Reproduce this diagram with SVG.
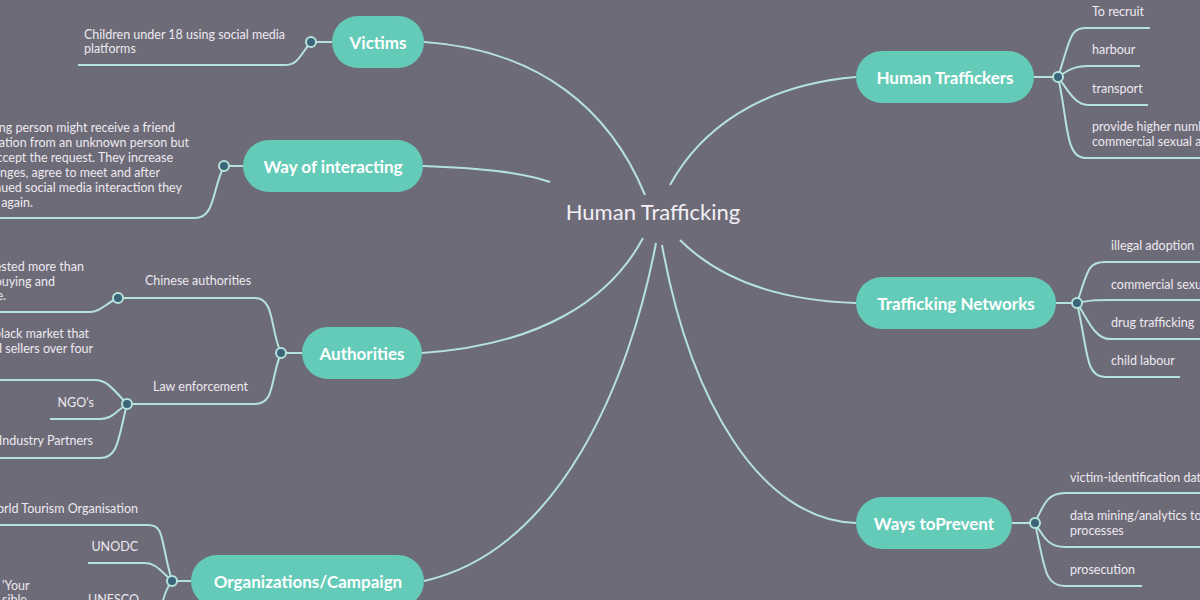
<svg xmlns="http://www.w3.org/2000/svg" width="1200" height="600" viewBox="0 0 1200 600">
<style>
.n{fill:#64cbb8}
.nt{fill:#fff;font:bold 17px Lato,"Open Sans",sans-serif;text-anchor:middle;dominant-baseline:central}
.t{fill:#ece9ef;font:12.5px Lato,"Open Sans",sans-serif}
.tr{fill:#ece9ef;font:12.5px Lato,"Open Sans",sans-serif;text-anchor:end}
.c path{fill:none;stroke:#b5e2dc;stroke-width:2}
.d{fill:#3b6578;stroke:#b5e2dc;stroke-width:2}
</style>
<rect width="1200" height="600" fill="#6e6b78"/>
<text x="653" y="220" fill="#f2f0f4" style="font:22px Lato,'Open Sans',sans-serif" text-anchor="middle">Human Trafficking</text>
<g class="c">
<path d="M424,42 C540,50 610,110 645,195"/>
<path d="M423,166 C480,168 520,172 550,182"/>
<path d="M422,353 C540,345 610,300 643,238"/>
<path d="M424,581 C560,550 630,380 656,243"/>
<path d="M856,77 C760,85 700,130 670,185"/>
<path d="M856,303 C760,300 710,270 680,240"/>
<path d="M856,523 C760,520 690,400 662,245"/>
<path d="M332,42 H311 M311,42 C300,55 298,65 285,65 H78"/>
<path d="M243,166 H224 M224,166 C212,190 215,218 195,218 H0"/>
<path d="M302,353 H281 M281,353 C270,330 275,298 255,298 H118 M118,298 C105,304 100,312 90,312 H0"/>
<path d="M281,353 C270,380 275,404 255,404 H127 M127,404 C110,385 105,380 95,380 H0 M127,404 C115,412 112,419 100,419 H50 M127,404 C118,440 118,458 100,458 H0"/>
<path d="M191,581 H172 M172,581 C160,540 165,525 148,525 H0 M172,581 C160,570 155,563 145,563 H88 M172,581 C165,590 163,600 162,605"/>
<path d="M1034,77 H1058 M1058,77 C1070,40 1070,28 1085,28 H1150 M1058,77 C1068,70 1075,66 1088,66 H1140 M1058,77 C1068,90 1075,105 1088,105 H1148 M1058,77 C1068,120 1065,158 1085,158 H1200"/>
<path d="M1056,303 H1077 M1077,303 C1088,270 1088,262 1105,262 H1200 M1077,303 C1090,300 1095,300 1110,300 H1200 M1077,303 C1088,320 1095,339 1110,339 H1200 M1077,303 C1088,350 1085,377 1105,377 H1180"/>
<path d="M1012,523 H1035 M1035,523 C1045,500 1050,493 1065,493 H1200 M1035,523 C1045,540 1050,547 1065,547 H1200 M1035,523 C1045,570 1045,586 1065,586 H1142"/>
</g>
<g id="dots">
<circle class="d" cx="311" cy="42" r="5"/><circle class="d" cx="224" cy="166" r="5"/>
<circle class="d" cx="281" cy="353" r="5"/><circle class="d" cx="118" cy="298" r="5"/><circle class="d" cx="127" cy="404" r="5"/>
<circle class="d" cx="172" cy="581" r="5"/><circle class="d" cx="1058" cy="77" r="5"/>
<circle class="d" cx="1077" cy="303" r="5"/><circle class="d" cx="1035" cy="523" r="5"/>
</g>
<g id="victims"><rect class="n" x="332" y="16" width="92" height="52" rx="26"/><text class="nt" x="378" y="42">Victims</text></g>
<g id="way"><rect class="n" x="243" y="140" width="180" height="52" rx="26"/><text class="nt" x="333" y="166">Way of interacting</text></g>
<g id="authorities"><rect class="n" x="302" y="327" width="120" height="52" rx="26"/><text class="nt" x="362" y="353">Authorities</text></g>
<g id="orgs"><rect class="n" x="191" y="555" width="233" height="52" rx="26"/><text class="nt" x="308" y="581">Organizations/Campaign</text></g>
<g id="traffickers"><rect class="n" x="856" y="51" width="178" height="52" rx="26"/><text class="nt" x="945" y="77">Human Traffickers</text></g>
<g id="networks"><rect class="n" x="856" y="277" width="200" height="52" rx="26"/><text class="nt" x="956" y="303">Trafficking Networks</text></g>
<g id="prevent"><rect class="n" x="856" y="497" width="156" height="52" rx="26"/><text class="nt" x="934" y="523">Ways toPrevent</text></g>
<g id="leaves">
<text class="t" x="84" y="39">Children under 18 using social media</text><text class="t" x="84" y="53">platforms</text>
<text class="tr" x="175" y="132">ung person might receive a friend</text>
<text class="tr" x="189" y="147">cation from an unknown person but</text>
<text class="tr" x="173" y="162">ccept the request. They increase</text>
<text class="tr" x="160" y="177">anges, agree to meet and after</text>
<text class="tr" x="182" y="192">nued social media interaction they</text>
<text class="tr" x="33" y="207">again.</text>
<text class="tr" x="84" y="271">ested more than</text><text class="tr" x="55" y="286">ouying and</text><text class="tr" x="6" y="300">e.</text>
<text class="t" x="145" y="285">Chinese authorities</text>
<text class="tr" x="89" y="338">black market that</text><text class="tr" x="93" y="353">d sellers over four</text>
<text class="t" x="153" y="391">Law enforcement</text>
<text class="tr" x="94" y="407">NGO's</text>
<text class="tr" x="93" y="445">Industry Partners</text>
<text class="tr" x="138" y="513">World Tourism Organisation</text>
<text class="tr" x="138" y="551">UNODC</text>
<text class="t" x="2" y="590">'Your</text><text class="t" x="2" y="604">sible</text>
<text class="t" x="88" y="604">UNESCO</text>
<text class="t" x="1092" y="16">To recruit</text><text class="t" x="1092" y="54">harbour</text><text class="t" x="1092" y="93">transport</text>
<text class="t" x="1092" y="131">provide higher numb</text><text class="t" x="1092" y="146">commercial sexual a</text>
<text class="t" x="1111" y="250">illegal adoption</text><text class="t" x="1111" y="289">commercial sexu</text><text class="t" x="1111" y="327">drug trafficking</text><text class="t" x="1111" y="365">child labour</text>
<text class="t" x="1070" y="482">victim-identification dat</text><text class="t" x="1070" y="520">data mining/analytics to</text><text class="t" x="1070" y="535">processes</text><text class="t" x="1070" y="574">prosecution</text>
</g>
</svg>
